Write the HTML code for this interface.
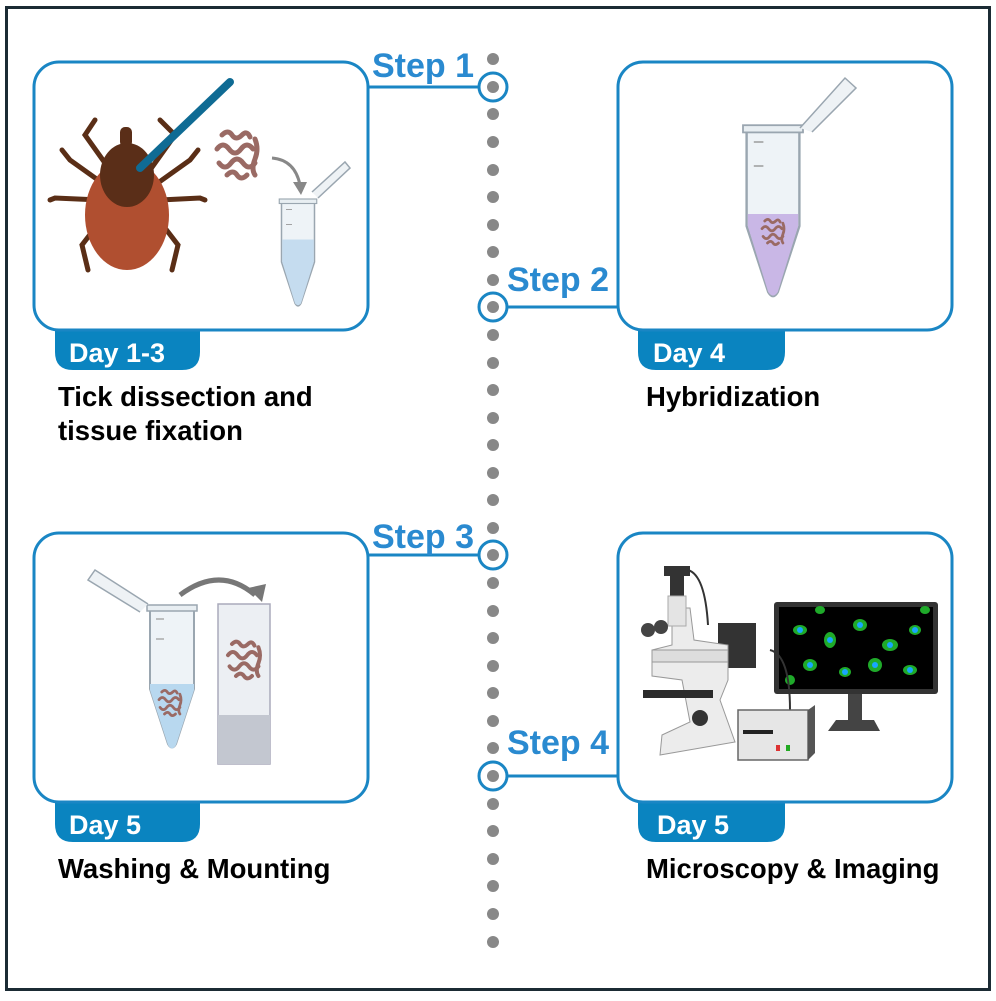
<!DOCTYPE html>
<html><head><meta charset="utf-8"><style>
body{margin:0;background:#fff;width:996px;height:996px;overflow:hidden;font-family:"Liberation Sans",Arial,sans-serif}
</style></head><body>
<svg width="996" height="996" viewBox="0 0 996 996" xmlns="http://www.w3.org/2000/svg" font-family="Liberation Sans, Arial, sans-serif">
<defs>
<g id="tube">
 <path d="M-22,0 L22,0 L22,80 L4,135 Q0,142 -4,135 L-22,80 Z" fill="#eef3f7" stroke="#9aa6b0" stroke-width="2"/>
 <rect x="-25" y="-4" width="50" height="6" fill="#e8eef2" stroke="#9aa6b0" stroke-width="1.5"/>
 <line x1="-16" y1="10" x2="-8" y2="10" stroke="#999" stroke-width="1.2"/>
 <line x1="-16" y1="30" x2="-8" y2="30" stroke="#999" stroke-width="1.2"/>
</g>
<g id="gut" fill="none" stroke="#9a6a64" stroke-width="5" stroke-linecap="round">
 <path d="M-15,-20 q6,-6 10,0 q4,6 10,0 q5,-5 8,2"/>
 <path d="M-20,-6 q6,-8 12,0 q6,8 12,0 q6,-8 12,0"/>
 <path d="M-18,8 q6,8 12,0 q6,-8 12,0 q6,8 12,0"/>
 <path d="M-10,20 q6,-6 10,0 q4,6 10,0"/>
 <path d="M18,-16 q4,10 0,20 q-4,10 0,16"/>
</g>
</defs>
<rect x="6.5" y="7.5" width="983" height="982" fill="#fff" stroke="#1b2b34" stroke-width="3"/>
<g fill="#888">
<circle cx="493" cy="59" r="6"/><circle cx="493" cy="87" r="6"/><circle cx="493" cy="114" r="6"/><circle cx="493" cy="142" r="6"/><circle cx="493" cy="170" r="6"/><circle cx="493" cy="197" r="6"/><circle cx="493" cy="225" r="6"/><circle cx="493" cy="252" r="6"/><circle cx="493" cy="280" r="6"/><circle cx="493" cy="307" r="6"/><circle cx="493" cy="335" r="6"/><circle cx="493" cy="363" r="6"/><circle cx="493" cy="390" r="6"/><circle cx="493" cy="418" r="6"/><circle cx="493" cy="445" r="6"/><circle cx="493" cy="473" r="6"/><circle cx="493" cy="500" r="6"/><circle cx="493" cy="528" r="6"/><circle cx="493" cy="555" r="6"/><circle cx="493" cy="583" r="6"/><circle cx="493" cy="611" r="6"/><circle cx="493" cy="638" r="6"/><circle cx="493" cy="666" r="6"/><circle cx="493" cy="693" r="6"/><circle cx="493" cy="721" r="6"/><circle cx="493" cy="748" r="6"/><circle cx="493" cy="776" r="6"/><circle cx="493" cy="804" r="6"/><circle cx="493" cy="831" r="6"/><circle cx="493" cy="859" r="6"/><circle cx="493" cy="886" r="6"/><circle cx="493" cy="914" r="6"/><circle cx="493" cy="942" r="6"/>
</g>
<g stroke="#1a86c4" stroke-width="3" fill="none">
 <line x1="368" y1="87" x2="479" y2="87"/><circle cx="493" cy="87" r="14"/>
 <line x1="507" y1="307" x2="618" y2="307"/><circle cx="493" cy="307" r="14"/>
 <line x1="368" y1="555" x2="479" y2="555"/><circle cx="493" cy="555" r="14"/>
 <line x1="507" y1="776" x2="618" y2="776"/><circle cx="493" cy="776" r="14"/>
</g>
<g fill="#2a8ad0" font-weight="bold" font-size="34">
 <text x="372" y="77">Step 1</text>
 <text x="507" y="291">Step 2</text>
 <text x="372" y="548">Step 3</text>
 <text x="507" y="754">Step 4</text>
</g>
<g fill="#0a84c0">
 <path d="M55,330 H200 V352 Q200,370 182,370 H73 Q55,370 55,352 Z"/>
 <path d="M638,330 H785 V352 Q785,370 767,370 H656 Q638,370 638,352 Z"/>
 <path d="M55,802 H200 V824 Q200,842 182,842 H73 Q55,842 55,824 Z"/>
 <path d="M638,802 H785 V824 Q785,842 767,842 H656 Q638,842 638,824 Z"/>
</g>
<g fill="#fff" font-weight="bold" font-size="27">
 <text x="69" y="362">Day 1-3</text>
 <text x="653" y="362">Day 4</text>
 <text x="69" y="834">Day 5</text>
 <text x="657" y="834">Day 5</text>
</g>
<g fill="#000" font-weight="bold" font-size="27.5">
 <text x="58" y="406">Tick dissection and</text>
 <text x="58" y="440">tissue fixation</text>
 <text x="646" y="406">Hybridization</text>
 <text x="58" y="878">Washing &amp; Mounting</text>
 <text x="646" y="878">Microscopy &amp; Imaging</text>
</g>
<g fill="none" stroke="#1a86c4" stroke-width="3">
 <rect x="34" y="62" width="334" height="268" rx="25"/>
 <rect x="618" y="62" width="334" height="268" rx="25"/>
 <rect x="34" y="533" width="334" height="269" rx="25"/>
 <rect x="618" y="533" width="334" height="269" rx="25"/>
</g>
<!-- panel 1 tick -->
<g stroke="#5a2e16" stroke-width="5" fill="none" stroke-linecap="round">
 <path d="M110,170 L85,135 L95,120"/><path d="M150,170 L175,135 L160,120"/>
 <path d="M105,185 L70,160 L62,150"/><path d="M155,185 L190,160 L198,150"/>
 <path d="M100,200 L55,198 L50,200"/><path d="M160,200 L200,198 L205,200"/>
 <path d="M105,215 L82,245 L88,270"/><path d="M155,215 L178,245 L172,270"/>
</g>
<ellipse cx="127" cy="215" rx="42" ry="55" fill="#b04f30"/>
<ellipse cx="127" cy="175" rx="27" ry="32" fill="#5a2e18"/>
<rect x="120" y="127" width="12" height="20" rx="5" fill="#5a2e18"/>
<line x1="140" y1="168" x2="230" y2="82" stroke="#0f6b94" stroke-width="8" stroke-linecap="round"/>
<use href="#gut" x="237" y="155"/>
<path d="M272,158 Q295,160 300,185" fill="none" stroke="#888" stroke-width="3"/>
<path d="M293,182 L301,195 L307,182 Z" fill="#888"/>
<g transform="translate(298,202) scale(0.75)"><use href="#tube"/><path d="M-21,50 L21,50 L21,80 L4,135 Q0,140 -4,135 L-21,80 Z" fill="#c5dcef"/></g>
<path d="M318,198 L350,168 L345,162 L312,192" fill="#eef2f5" stroke="#9aa6b0" stroke-width="1.5"/>
<!-- panel 2 -->
<g transform="translate(773,130) scale(1.2)"><use href="#tube"/><path d="M-21,70 L21,70 L21,80 L4,135 Q0,141 -4,135 L-21,80 Z" fill="#c9b7e6"/></g>
<use href="#gut" x="773" y="232" transform="translate(773,232) scale(0.55) translate(-773,-232)"/>
<path d="M800,128 L845,78 L856,88 L812,132" fill="#eef2f5" stroke="#9aa6b0" stroke-width="1.5"/>
<!-- panel 3 -->
<use href="#tube" x="172" y="609"/>
<path d="M150,684 L194,684 L194,690 L176,745 Q172,752 168,745 L150,690 Z" fill="#b8d8ef"/>
<use href="#gut" x="170" y="703" transform="translate(170,703) scale(0.55) translate(-170,-703)"/>
<path d="M148,604 L95,570 L88,580 L140,612" fill="#eef2f5" stroke="#9aa6b0" stroke-width="1.5"/>
<path d="M180,595 Q220,565 255,595" fill="none" stroke="#777" stroke-width="5"/>
<path d="M248,588 L262,602 L266,584 Z" fill="#777"/>
<rect x="218" y="604" width="52" height="160" fill="#eceff3" stroke="#aab" stroke-width="1.5"/>
<rect x="218" y="715" width="52" height="49" fill="#c3c7d0"/>
<use href="#gut" x="244" y="660" transform="translate(244,660) scale(0.8) translate(-244,-660)"/>
<!-- panel 4 -->
<rect x="774" y="602" width="164" height="92" rx="3" fill="#333"/>
<rect x="779" y="607" width="154" height="82" fill="#000"/>
<g fill="#1faa2a"><ellipse cx="800" cy="630" rx="7" ry="5"/><ellipse cx="830" cy="640" rx="6" ry="8"/><ellipse cx="860" cy="625" rx="7" ry="6"/><ellipse cx="890" cy="645" rx="8" ry="6"/><ellipse cx="915" cy="630" rx="6" ry="5"/><ellipse cx="810" cy="665" rx="7" ry="6"/><ellipse cx="845" cy="672" rx="6" ry="5"/><ellipse cx="875" cy="665" rx="7" ry="7"/><ellipse cx="910" cy="670" rx="7" ry="5"/><ellipse cx="790" cy="680" rx="5" ry="5"/><ellipse cx="925" cy="610" rx="5" ry="4"/><ellipse cx="820" cy="610" rx="5" ry="4"/></g>
<g fill="#19a6ff"><circle cx="800" cy="630" r="3"/><circle cx="830" cy="640" r="3"/><circle cx="860" cy="625" r="3"/><circle cx="890" cy="645" r="3"/><circle cx="915" cy="630" r="3"/><circle cx="810" cy="665" r="3"/><circle cx="845" cy="672" r="3"/><circle cx="875" cy="665" r="3"/><circle cx="910" cy="670" r="3"/></g>
<rect x="848" y="694" width="14" height="26" fill="#444"/>
<path d="M828,731 L836,720 L874,720 L880,731 Z" fill="#444"/>
<path d="M770,650 Q790,655 790,710" fill="none" stroke="#333" stroke-width="2"/>
<rect x="738" y="710" width="70" height="50" fill="#e6e6e6" stroke="#666" stroke-width="1.5"/>
<path d="M808,710 L815,705 L815,753 L808,760 Z" fill="#555"/>
<rect x="743" y="730" width="30" height="4" fill="#222"/><rect x="776" y="745" width="4" height="6" fill="#d33"/><rect x="786" y="745" width="4" height="6" fill="#2a2"/>
<rect x="718" y="623" width="38" height="45" fill="#333"/>
<path d="M672,608 L690,608 L694,640 L728,645 L728,680 L720,700 L735,742 L660,755 L662,735 L690,722 L682,680 L652,676 L652,650 L672,645 Z" fill="#ececec" stroke="#999" stroke-width="1"/>
<rect x="652" y="650" width="76" height="12" fill="#ddd" stroke="#999" stroke-width="1"/>
<rect x="664" y="566" width="26" height="10" fill="#333"/><rect x="670" y="576" width="14" height="20" fill="#333"/>
<rect x="668" y="596" width="18" height="30" fill="#e4e4e4" stroke="#aaa"/>
<circle cx="648" cy="630" r="7" fill="#444"/><circle cx="661" cy="627" r="7" fill="#444"/>
<rect x="643" y="690" width="70" height="8" fill="#2b2b2b"/>
<circle cx="700" cy="718" r="8" fill="#333"/>
<path d="M688,570 Q705,575 708,625" fill="none" stroke="#333" stroke-width="2"/>
</svg>
</body></html>
